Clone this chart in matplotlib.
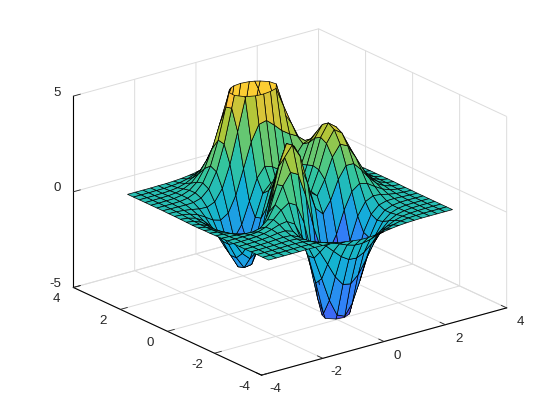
import numpy as np
import matplotlib
matplotlib.use('Agg')
import matplotlib.pyplot as plt
from matplotlib.colors import LinearSegmentedColormap, Normalize
from mpl_toolkits.mplot3d.art3d import Poly3DCollection

plt.rcParams['font.family'] = ['Liberation Sans', 'DejaVu Sans']
plt.rcParams['axes.unicode_minus'] = False

# Input
x_values = [-3, -2.75, -2.5, -2.25, -2, -1.75, -1.5, -1.25, -1, -0.75, -0.5, -0.25, 0,
            0.25, 0.5, 0.75, 1, 1.25, 1.5, 1.75, 2, 2.25, 2.5, 2.75, 3]
y_values = x_values
z_values = [
    [0, 0, 0, 0, 0, .01, 0, -.01, -.03, -.08, -.14, -.20, -.25, -.25, -.22, -.17, -.11, -.06, -.03, -.01, 0, 0, 0, 0, 0],
    [0, 0, 0, 0, .01, .01, 0, -.02, -.10, -.22, -.39, -.56, -.68, -.69, -.61, -.46, -.30, -.17, -.08, -.03, -.01, 0, 0, 0, 0],
    [0, 0, 0, .01, .02, .02, 0, -.07, -.23, -.53, -.92, -1.31, -1.57, -1.61, -1.41, -1.06, -.69, -.38, -.19, -.08, -.03, -.01, 0, 0, 0],
    [0, 0, .01, .01, .03, .04, .01, -.12, -.44, -1.0, -1.74, -2.51, -3.02, -3.10, -2.72, -2.05, -1.32, -.73, -.35, -.14, -.05, -.01, 0, 0, 0],
    [0, 0, .01, .02, .05, .07, .05, -.13, -.59, -1.45, -2.64, -3.88, -4.76, -4.93, -4.35, -3.27, -2.10, -1.15, -.53, -.20, -.06, -.01, 0, 0, 0],
    [0, 0, .01, .03, .07, .13, .15, .02, -.46, -1.48, -3.01, -4.70, -5.98, -6.33, -5.64, -4.24, -2.69, -1.42, -.61, -.20, -.05, 0, .01, 0, 0],
    [0, 0, .01, .03, .08, .19, .33, .39, .15, -.68, -2.18, -4.07, -5.68, -6.32, -5.76, -4.31, -2.63, -1.27, -.44, -.07, .04, .05, .03, .01, 0],
    [0, -.01, -.01, -.01, .03, .17, .45, .84, 1.11, .88, -.14, -1.85, -3.61, -4.61, -4.40, -3.23, -1.74, -.56, .08, .27, .23, .13, .06, .02, .01],
    [-.01, -.03, -.06, -.10, -.13, -.04, .30, .98, 1.86, 2.45, 2.23, 1.00, -.72, -2.02, -2.22, -1.43, -.27, .58, .88, .77, .50, .26, .11, .04, .01],
    [-.02, -.05, -.12, -.26, -.42, -.51, -.28, .49, 1.78, 3.09, 3.63, 2.94, 1.40, 0, -.41, .20, 1.18, 1.79, 1.78, 1.35, .82, .41, .18, .06, .02],
    [-.03, -.08, -.20, -.44, -.80, -1.16, -1.21, -.60, .80, 2.49, 3.55, 3.31, 2.00, .70, .39, 1.14, 2.20, 2.76, 2.56, 1.88, 1.12, .56, .24, .09, .03],
    [-.03, -.10, -.27, -.60, -1.14, -1.78, -2.16, -1.84, -.56, 1.23, 2.56, 2.63, 1.58, .53, .48, 1.50, 2.76, 3.37, 3.09, 2.25, 1.34, .67, .28, .10, .03],
    [-.04, -.11, -.30, -.69, -1.33, -2.14, -2.77, -2.71, -1.65, .06, 1.48, 1.75, .98, .19, .38, 1.57, 2.94, 3.58, 3.27, 2.37, 1.41, .70, .30, .11, .03],
    [-.04, -.11, -.29, -.67, -1.32, -2.16, -2.87, -2.98, -2.15, -.65, .68, 1.06, .52, -.03, .28, 1.47, 2.76, 3.36, 3.06, 2.22, 1.32, .66, .28, .10, .03],
    [-.03, -.09, -.25, -.57, -1.12, -1.85, -2.49, -2.64, -2.00, -.76, .39, .80, .46, .09, .38, 1.34, 2.38, 2.83, 2.56, 1.85, 1.09, .55, .23, .08, .03],
    [-.02, -.07, -.18, -.42, -.82, -1.33, -1.76, -1.78, -1.16, -.05, 1.04, 1.55, 1.42, 1.12, 1.17, 1.65, 2.17, 2.32, 1.99, 1.40, .82, .41, .17, .06, .02],
    [-.01, -.04, -.11, -.25, -.48, -.74, -.86, -.60, .23, 1.51, 2.79, 3.59, 3.69, 3.34, 2.94, 2.66, 2.44, 2.09, 1.58, 1.04, .58, .28, .11, .04, .01],
    [-.01, -.02, -.06, -.12, -.20, -.22, -.05, .55, 1.70, 3.29, 4.92, 6.07, 6.39, 5.94, 5.02, 3.97, 2.97, 2.09, 1.35, .79, .41, .19, .07, .03, .01],
    [0, -.01, -.02, -.03, -.01, .11, .48, 1.27, 2.61, 4.37, 6.19, 7.54, 7.99, 7.48, 6.25, 4.72, 3.25, 2.05, 1.18, .62, .29, .12, .05, .02, 0],
    [0, 0, 0, .01, .07, .24, .65, 1.43, 2.67, 4.29, 5.96, 7.22, 7.68, 7.20, 5.99, 4.45, 2.96, 1.78, .96, .47, .21, .08, .03, .01, 0],
    [0, 0, .01, .02, .08, .23, .55, 1.16, 2.10, 3.31, 4.56, 5.51, 5.86, 5.50, 4.57, 3.37, 2.21, 1.29, .68, .32, .13, .05, .02, .01, 0],
    [0, 0, .01, .02, .06, .16, .36, .74, 1.32, 2.07, 2.84, 3.43, 3.65, 3.43, 2.84, 2.09, 1.36, .79, .41, .19, .08, .03, .01, 0, 0],
    [0, 0, 0, .01, .03, .08, .19, .39, .69, 1.07, 1.47, 1.77, 1.89, 1.77, 1.47, 1.08, .70, .40, .21, .09, .04, .01, .01, 0, 0],
    [0, 0, 0, .01, .01, .04, .08, .17, .30, .47, .64, .77, .82, .77, .64, .47, .30, .17, .09, .04, .02, .01, 0, 0, 0],
    [0, 0, 0, 0, .01, .01, .03, .06, .11, .17, .23, .28, .30, .28, .23, .17, .11, .06, .03, .01, .01, 0, 0, 0, 0],
]
xy_ticks = [-4, -2, 0, 2, 4]
z_ticks = [-5, 0, 5]

# Colormap and limits
parula = LinearSegmentedColormap.from_list('parula', [
    (0.2422, 0.1504, 0.6603), (0.2810, 0.3228, 0.9579), (0.1786, 0.5289, 0.9682),
    (0.0689, 0.6948, 0.8394), (0.2161, 0.7843, 0.5923), (0.6720, 0.7793, 0.2227),
    (0.9970, 0.7659, 0.2199), (0.9598, 0.8840, 0.1500), (0.9769, 0.9839, 0.0805)])
norm = Normalize(-6.55, 8.1)
z_min, z_max = -5, 5


def cut(poly, limit, sign):
    # Cut a polygon with a horizontal plane, the axes clip the surface at z limits
    out = []
    for i in range(len(poly)):
        p = poly[i]
        q = poly[(i + 1) % len(poly)]
        p_in = sign*(p[2] - limit) <= 0
        q_in = sign*(q[2] - limit) <= 0
        if p_in:
            out.append(p)
        if p_in != q_in:
            out.append(p + (limit - p[2])/(q[2] - p[2])*(q - p))
    return out


xs = np.array(x_values, dtype=float)
ys = np.array(y_values, dtype=float)
zs = np.array(z_values, dtype=float)

polys = []
colors = []
for j in range(len(ys) - 1):
    for i in range(len(xs) - 1):
        quad = [np.array([xs[a], ys[b], zs[b, a]])
                for a, b in ((i, j), (i + 1, j), (i + 1, j + 1), (i, j + 1))]
        quad = cut(quad, z_max, 1)
        if quad:
            quad = cut(quad, z_min, -1)
        if len(quad) >= 3:
            polys.append(np.array(quad))
            colors.append(parula(norm(np.clip(zs[j, i], z_min, z_max))))

fig = plt.figure(figsize=(5.6, 4.2), dpi=100)
ax = fig.add_axes([23.2/560, 27.2/420, 519.6/560, 371.6/420], projection='3d', proj_type='ortho')
ax.apply_aspect = lambda position=None: None  # stretch to fill, no square box
ax.set_box_aspect((1, 1, 1))
ax.view_init(elev=30, azim=-127.5)

surf = Poly3DCollection(polys, facecolors=colors, edgecolors='black', linewidths=0.5)
ax.add_collection3d(surf)

ax.set_xlim(-4, 4, view_margin=0)
ax.set_ylim(-4, 4, view_margin=0)
ax.set_zlim(-5, 5, view_margin=0)
ax.set_xticks(xy_ticks)
ax.set_yticks(xy_ticks)
ax.set_zticks(z_ticks)

for axis in (ax.xaxis, ax.yaxis, ax.zaxis):
    axis.set_pane_color((1, 1, 1, 0))
    axis.pane.set_edgecolor('#c8c8c8')
    axis.pane.set_linewidth(0.8)
    axis._axinfo['grid'].update(color='#dcdcdc', linewidth=0.7)
    axis._axinfo['axisline'].update(color='#262626', linewidth=0.8)
    axis._axinfo['tick'].update(inward_factor=0.0, outward_factor=0.35, linewidth={True: 0.6, False: 0.6}, color='#262626')
ax.tick_params(labelsize=9.6, colors='#262626')
ax.tick_params(axis='x', pad=4)
ax.tick_params(axis='y', pad=3.5)
ax.tick_params(axis='z', pad=-3.3)
plt.setp(ax.get_xticklabels(), va='bottom')
plt.setp(ax.get_yticklabels(), va='bottom')
plt.setp(ax.get_zticklabels(), va='baseline', ha='right')

plt.savefig('out.png', dpi=100)
